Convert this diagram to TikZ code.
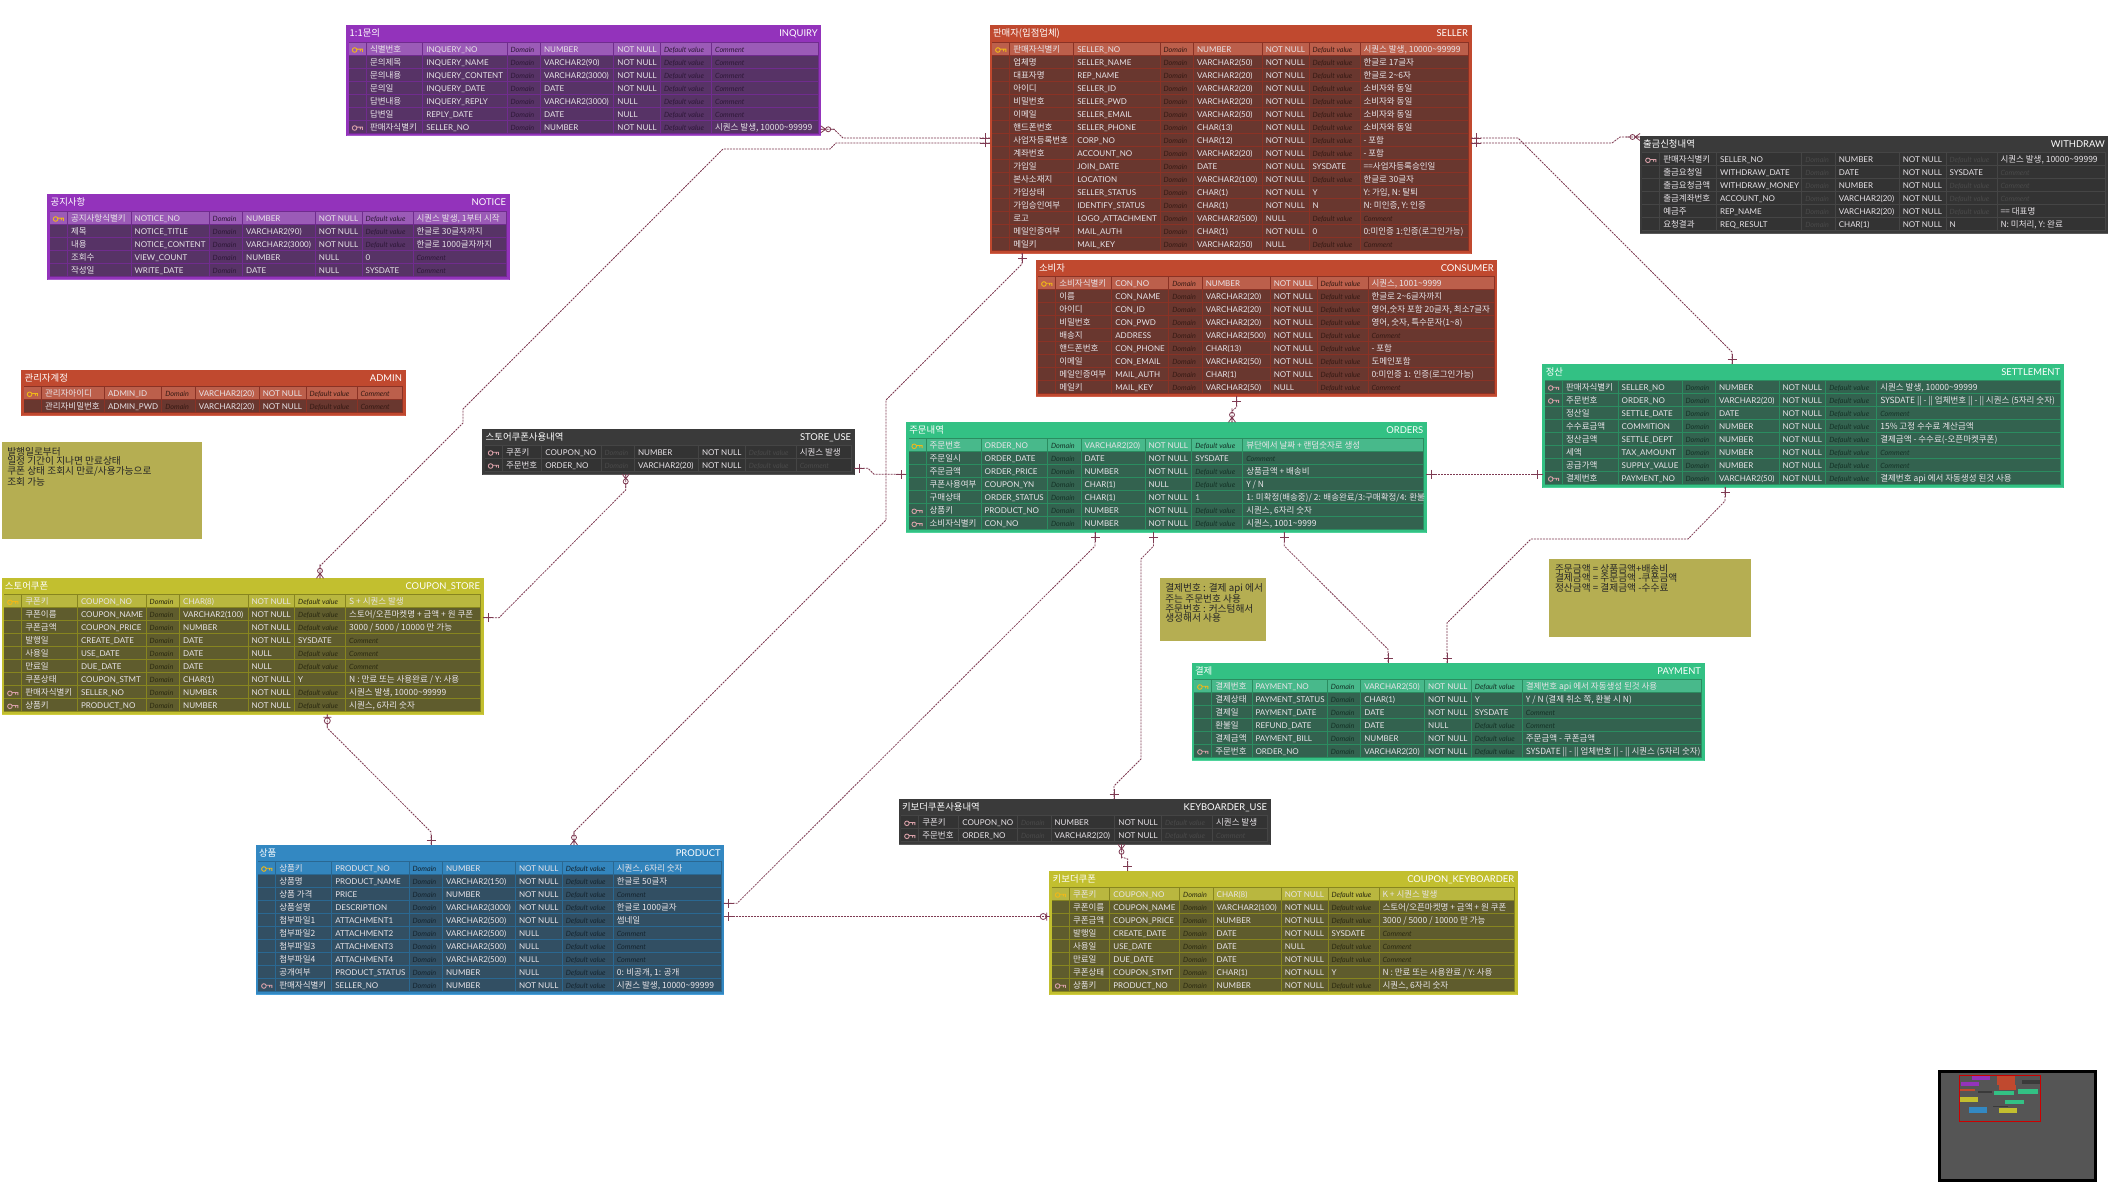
\documentclass[tikz,border=0pt]{standalone}
\usepackage{fontspec}
\setmainfont{Lato}
\newfontfamily\krfont{Noto Sans CJK KR}
\usetikzlibrary{positioning,calc}

\definecolor{purplehead}{HTML}{9333BB}\definecolor{purplerow}{HTML}{573366}\definecolor{purplepk}{HTML}{9B5BB7}
\definecolor{purpleline}{HTML}{702C8E}\definecolor{purplefade}{HTML}{2E1838}\definecolor{purpleedge}{HTML}{A75CCB}
\definecolor{redhead}{HTML}{C0492F}\definecolor{redrow}{HTML}{69372F}\definecolor{redpk}{HTML}{BC5F4B}
\definecolor{redline}{HTML}{8A3225}\definecolor{redfade}{HTML}{361A14}\definecolor{rededge}{HTML}{D0604A}
\definecolor{greenhead}{HTML}{33C184}\definecolor{greenrow}{HTML}{33624F}\definecolor{greenpk}{HTML}{48B98B}
\definecolor{greenline}{HTML}{2B8C60}\definecolor{greenfade}{HTML}{143226}\definecolor{greenedge}{HTML}{4FD39B}
\definecolor{olivehead}{HTML}{C2BF2F}\definecolor{oliverow}{HTML}{5F5C2D}\definecolor{olivepk}{HTML}{B9B73F}
\definecolor{oliveline}{HTML}{87851F}\definecolor{olivefade}{HTML}{2B2A10}\definecolor{oliveedge}{HTML}{D0CD3F}
\definecolor{bluehead}{HTML}{3388C2}\definecolor{bluerow}{HTML}{324F63}\definecolor{bluepk}{HTML}{3385BD}
\definecolor{blueline}{HTML}{2A6892}\definecolor{bluefade}{HTML}{14242F}\definecolor{blueedge}{HTML}{49A0DA}
\definecolor{darkhead}{HTML}{3A3A3A}\definecolor{darkrow}{HTML}{333333}\definecolor{darkpk}{HTML}{333333}
\definecolor{darkline}{HTML}{454545}\definecolor{darkfade}{HTML}{4A4A4A}\definecolor{darkedge}{HTML}{5A5A5A}
\definecolor{notefill}{HTML}{B5AE52}\definecolor{relcolor}{HTML}{7E3A52}
\definecolor{keygold}{HTML}{F0B818}\definecolor{keypink}{HTML}{D8A0A8}
\definecolor{cellwhite}{HTML}{E8E4E8}\definecolor{mapgray}{HTML}{555555}

\newcommand{\kr}{\krfont\fontsize{8.5}{9}\selectfont}
\newcount\erdrownum
\newcount\erdcolnum
\def\erdpk{p}
\def\erdfk{f}

\tikzset{
  erdframe/.style={rectangle,inner sep=0,outer sep=0,line width=1},
  erdhead/.style={inner sep=0,outer sep=0,text=white,font=\fontsize{9.4}{10}\selectfont},
  erdtext/.style={inner sep=0,outer sep=0,text=cellwhite,font=\fontsize{8}{9}\selectfont},
  notebox/.style={rectangle,fill=notefill,inner sep=0,outer sep=0},
  notetext/.style={inner sep=0,outer sep=0,align=left,text=black!85,font=\krfont\fontsize{9.7}{9.7}\selectfont},
  rel/.style={draw=relcolor,line width=.8,dash pattern=on 2pt off 1pt},
  erdkey/.pic={\draw[line width=.9] (-2.9,0) circle (2.3) (-.6,-.8) -- (5,-.8) -- (5,1.8) (2.8,-.8) -- (2.8,1.4);},
  onemark/.pic={\draw[solid] (0,0) -- (10,0) (5,-4.5) -- (5,4.5);},
  zeromany/.pic={\draw[solid] (0,-3.5) -- (5,0) -- (0,3.5) (0,0) -- (5,0) (7.5,0) circle (2.5) (10,0) -- (14,0);},
  zeroone/.pic={\draw[solid] (0,0) -- (3,0) (3,-4) -- (3,4) (6.5,0) circle (3) (9.5,0) -- (13,0);}
}

% one cell of a row: width, text
\newcommand{\erdcell}[2]{%
  \advance\erdcolnum by 1
  \fill[fill=\erdfill] (\erdcx,\erdcy) rectangle ++(#1-1,12);
  \node[erdtext,anchor=base west] (\erdid-\the\erdrownum-\the\erdcolnum) at (\erdcx+3,\erdcy+9.1) {#2};
  \pgfmathsetmacro\erdcx{\erdcx+#1}%
}
\newcommand{\erdcols}[3]{\def\erdkor{#1}\def\erdcol{#2}\def\erdtype{#3}}
% id, theme, x, y, width, rows, korean title, english title
\newcommand{\erdtable}[8]{%
  \def\erdid{#1}\def\erdtheme{#2}\erdrownum=0
  \pgfmathsetmacro\erdleft{#3+2.3}%
  \pgfmathsetmacro\erdcy{#4+17}%
  \pgfmathsetmacro\erdcomm{#5-153.5-\erdkor-\erdcol-\erdtype}%
  \pgfmathsetmacro\erdh{17+13*#6+2}%
  \node[erdframe,fill=#2head,draw=#2head,minimum width=#5,minimum height=\erdh,anchor=north west] (#1) at (#3,#4) {};
  \fill[fill=#2line] (\erdleft,#4+16) rectangle ++(#5-4.3,13*#6+1);
  \draw[draw=#2edge,line width=1] (#1.south west) -- (#1.south east);
  \node[erdhead,anchor=base west] (#1-kor) at (#3+3,#4+11) {\krfont #7};
  \node[erdhead,anchor=base east] (#1-eng) at (#3+#5-3,#4+11) {#8};
}
% key, korean name, column, type, null, default, comment
\newcommand{\erow}[7]{%
  \advance\erdrownum by 1
  \erdcolnum=0
  \def\erdkeyarg{#1}\def\erddefarg{#6}\def\erdcomarg{#7}%
  \ifx\erdkeyarg\erdpk\def\erdfill{\erdtheme pk}\else\def\erdfill{\erdtheme row}\fi
  \let\erdcx\erdleft
  \erdcell{18}{}
  \ifx\erdkeyarg\erdpk\pic[color=keygold] at (\erdleft+8.5,\erdcy+7) {erdkey};\fi
  \ifx\erdkeyarg\erdfk\pic[color=keypink] at (\erdleft+8.5,\erdcy+7) {erdkey};\fi
  \erdcell{\erdkor}{\kr #2}
  \erdcell{\erdcol}{#3}
  \erdcell{33.5}{\color{\erdtheme fade}\itshape\fontsize{7.2}{8}\selectfont Domain}
  \erdcell{\erdtype}{#4}
  \erdcell{46.7}{#5}
  \ifx\erddefarg\empty
    \erdcell{51}{\color{\erdtheme fade}\itshape\fontsize{7.2}{8}\selectfont Default value}
  \else
    \erdcell{51}{#6}
  \fi
  \ifx\erdcomarg\empty
    \erdcell{\erdcomm}{\color{\erdtheme fade}\itshape\fontsize{7.2}{8}\selectfont Comment}
  \else
    \erdcell{\erdcomm}{\kr #7}
  \fi
  \pgfmathsetmacro\erdcy{\erdcy+13}%
}

\begin{document}
\begin{tikzpicture}[x=1pt,y=-1pt]
  \fill[white] (0,0) rectangle (2117,1201);
  \useasboundingbox (0,0) rectangle (2117,1201);

  % tables
  \erdcols{56.3}{84.3}{73.3}
  \erdtable{inquiry}{purple}{346.7}{26}{474}{7}{1:1문의}{INQUIRY}
  \erow{p}{식별번호}{INQUERY\_NO}{NUMBER}{NOT NULL}{}{}
  \erow{}{문의제목}{INQUERY\_NAME}{VARCHAR2(90)}{NOT NULL}{}{}
  \erow{}{문의내용}{INQUERY\_CONTENT}{VARCHAR2(3000)}{NOT NULL}{}{}
  \erow{}{문의일}{INQUERY\_DATE}{DATE}{NOT NULL}{}{}
  \erow{}{답변내용}{INQUERY\_REPLY}{VARCHAR2(3000)}{NULL}{}{}
  \erow{}{답변일}{REPLY\_DATE}{DATE}{NULL}{}{}
  \erow{f}{판매자식별키}{SELLER\_NO}{NUMBER}{NOT NULL}{}{시퀀스 발생, 10000\textasciitilde99999}

  \erdcols{64}{86.3}{68.7}
  \erdtable{seller}{red}{990}{26}{481}{16}{판매자(입점업체)}{SELLER}
  \erow{p}{판매자식별키}{SELLER\_NO}{NUMBER}{NOT NULL}{}{시퀀스 발생, 10000\textasciitilde99999}
  \erow{}{업체명}{SELLER\_NAME}{VARCHAR2(50)}{NOT NULL}{}{한글로 17글자}
  \erow{}{대표자명}{REP\_NAME}{VARCHAR2(20)}{NOT NULL}{}{한글로 2\textasciitilde6자}
  \erow{}{아이디}{SELLER\_ID}{VARCHAR2(20)}{NOT NULL}{}{소비자와 동일}
  \erow{}{비밀번호}{SELLER\_PWD}{VARCHAR2(20)}{NOT NULL}{}{소비자와 동일}
  \erow{}{이메일}{SELLER\_EMAIL}{VARCHAR2(50)}{NOT NULL}{}{소비자와 동일}
  \erow{}{핸드폰번호}{SELLER\_PHONE}{CHAR(13)}{NOT NULL}{}{소비자와 동일}
  \erow{}{사업자등록번호}{CORP\_NO}{CHAR(12)}{NOT NULL}{}{- 포함}
  \erow{}{계좌번호}{ACCOUNT\_NO}{VARCHAR2(20)}{NOT NULL}{}{- 포함}
  \erow{}{가입일}{JOIN\_DATE}{DATE}{NOT NULL}{SYSDATE}{==사업자등록승인일}
  \erow{}{본사소재지}{LOCATION}{VARCHAR2(100)}{NOT NULL}{}{한글로 30글자}
  \erow{}{가입상태}{SELLER\_STATUS}{CHAR(1)}{NOT NULL}{Y}{Y: 가입, N: 탈퇴}
  \erow{}{가입승인여부}{IDENTIFY\_STATUS}{CHAR(1)}{NOT NULL}{N}{N: 미인증, Y: 인증}
  \erow{}{로고}{LOGO\_ATTACHMENT}{VARCHAR2(500)}{NULL}{}{}
  \erow{}{메일인증여부}{MAIL\_AUTH}{CHAR(1)}{NOT NULL}{0}{0:미인증 1:인증(로그인가능)}
  \erow{}{메일키}{MAIL\_KEY}{VARCHAR2(50)}{NULL}{}{}

  \erdcols{56.7}{85.3}{64}
  \erdtable{withdraw}{dark}{1640}{136.3}{467.7}{6}{출금신청내역}{WITHDRAW}
  \erow{f}{판매자식별키}{SELLER\_NO}{NUMBER}{NOT NULL}{}{시퀀스 발생, 10000\textasciitilde99999}
  \erow{}{출금요청일}{WITHDRAW\_DATE}{DATE}{NOT NULL}{SYSDATE}{}
  \erow{}{출금요청금액}{WITHDRAW\_MONEY}{NUMBER}{NOT NULL}{}{}
  \erow{}{출금계좌번호}{ACCOUNT\_NO}{VARCHAR2(20)}{NOT NULL}{}{}
  \erow{}{예금주}{REP\_NAME}{VARCHAR2(20)}{NOT NULL}{}{== 대표명}
  \erow{}{요청결과}{REQ\_RESULT}{CHAR(1)}{NOT NULL}{N}{N: 미처리, Y: 완료}

  \erdcols{63.7}{78}{72.7}
  \erdtable{notice}{purple}{47.7}{195}{461.3}{5}{공지사항}{NOTICE}
  \erow{p}{공지사항식별키}{NOTICE\_NO}{NUMBER}{NOT NULL}{}{시퀀스 발생, 1부터 시작}
  \erow{}{제목}{NOTICE\_TITLE}{VARCHAR2(90)}{NOT NULL}{}{한글로 30글자까지}
  \erow{}{내용}{NOTICE\_CONTENT}{VARCHAR2(3000)}{NOT NULL}{}{한글로 1000글자까지}
  \erow{}{조회수}{VIEW\_COUNT}{NUMBER}{NULL}{0}{}
  \erow{}{작성일}{WRITE\_DATE}{DATE}{NULL}{SYSDATE}{}

  \erdcols{63}{57.3}{64}
  \erdtable{admin}{red}{21.7}{370.3}{383.3}{2}{관리자계정}{ADMIN}
  \erow{p}{관리자아이디}{ADMIN\_ID}{VARCHAR2(20)}{NOT NULL}{}{}
  \erow{}{관리자비밀번호}{ADMIN\_PWD}{VARCHAR2(20)}{NOT NULL}{}{}

  \erdcols{56}{57}{68}
  \erdtable{consumer}{red}{1036}{260}{460.7}{9}{소비자}{CONSUMER}
  \erow{p}{소비자식별키}{CON\_NO}{NUMBER}{NOT NULL}{}{시퀀스, 1001\textasciitilde9999}
  \erow{}{이름}{CON\_NAME}{VARCHAR2(20)}{NOT NULL}{}{한글로 2\textasciitilde6글자까지}
  \erow{}{아이디}{CON\_ID}{VARCHAR2(20)}{NOT NULL}{}{영어,숫자 포함 20글자, 최소7글자}
  \erow{}{비밀번호}{CON\_PWD}{VARCHAR2(20)}{NOT NULL}{}{영어, 숫자, 특수문자(1\textasciitilde8)}
  \erow{}{배송지}{ADDRESS}{VARCHAR2(500)}{NOT NULL}{}{}
  \erow{}{핸드폰번호}{CON\_PHONE}{CHAR(13)}{NOT NULL}{}{- 포함}
  \erow{}{이메일}{CON\_EMAIL}{VARCHAR2(50)}{NOT NULL}{}{도메인포함}
  \erow{}{메일인증여부}{MAIL\_AUTH}{CHAR(1)}{NOT NULL}{}{0:미인증 1: 인증(로그인가능)}
  \erow{}{메일키}{MAIL\_KEY}{VARCHAR2(50)}{NULL}{}{}

  \erdcols{55.6}{63.9}{63.5}
  \erdtable{settlement}{green}{1542.8}{364}{520.3}{8}{정산}{SETTLEMENT}
  \erow{f}{판매자식별키}{SELLER\_NO}{NUMBER}{NOT NULL}{}{시퀀스 발생, 10000\textasciitilde99999}
  \erow{f}{주문번호}{ORDER\_NO}{VARCHAR2(20)}{NOT NULL}{}{SYSDATE || - || 업체번호 || - || 시퀀스 (5자리 숫자)}
  \erow{}{정산일}{SETTLE\_DATE}{DATE}{NOT NULL}{}{}
  \erow{}{수수료금액}{COMMITION}{NUMBER}{NOT NULL}{}{15\% 고정 수수료 계산금액}
  \erow{}{정산금액}{SETTLE\_DEPT}{NUMBER}{NOT NULL}{}{결제금액 - 수수료(-오픈마켓쿠폰)}
  \erow{}{세액}{TAX\_AMOUNT}{NUMBER}{NOT NULL}{}{}
  \erow{}{공급가액}{SUPPLY\_VALUE}{NUMBER}{NOT NULL}{}{}
  \erow{f}{결제번호}{PAYMENT\_NO}{VARCHAR2(50)}{NOT NULL}{}{결제번호 api 에서 자동생성 된것 사용}

  \erdcols{55}{66.5}{64}
  \erdtable{orders}{green}{906.3}{422.3}{520}{7}{주문내역}{ORDERS}
  \erow{p}{주문번호}{ORDER\_NO}{VARCHAR2(20)}{NOT NULL}{}{뷰단에서 날짜 + 랜덤숫자로 생성}
  \erow{}{주문일시}{ORDER\_DATE}{DATE}{NOT NULL}{SYSDATE}{}
  \erow{}{주문금액}{ORDER\_PRICE}{NUMBER}{NOT NULL}{}{상품금액 + 배송비}
  \erow{}{쿠폰사용여부}{COUPON\_YN}{CHAR(1)}{NULL}{}{Y / N}
  \erow{}{구매상태}{ORDER\_STATUS}{CHAR(1)}{NOT NULL}{1}{1: 미확정(배송중)/ 2: 배송완료/3:구매확정/4: 환불}
  \erow{f}{상품키}{PRODUCT\_NO}{NUMBER}{NOT NULL}{}{시퀀스, 6자리 숫자}
  \erow{f}{소비자식별키}{CON\_NO}{NUMBER}{NOT NULL}{}{시퀀스, 1001\textasciitilde9999}

  \erdcols{40.2}{75.3}{63.9}
  \erdtable{payment}{green}{1192}{663}{512}{6}{결제}{PAYMENT}
  \erow{p}{결제번호}{PAYMENT\_NO}{VARCHAR2(50)}{NOT NULL}{}{결제번호 api 에서 자동생성 된것 사용}
  \erow{}{결제상태}{PAYMENT\_STATUS}{CHAR(1)}{NOT NULL}{Y}{Y / N (결제 취소 쪽, 환불 시 N)}
  \erow{}{결제일}{PAYMENT\_DATE}{DATE}{NOT NULL}{SYSDATE}{}
  \erow{}{환불일}{REFUND\_DATE}{DATE}{NULL}{}{}
  \erow{}{결제금액}{PAYMENT\_BILL}{NUMBER}{NOT NULL}{}{주문금액 - 쿠폰금액}
  \erow{f}{주문번호}{ORDER\_NO}{VARCHAR2(20)}{NOT NULL}{}{SYSDATE || - || 업체번호 || - || 시퀀스 (5자리 숫자)}

  \erdcols{39.3}{59.3}{64}
  \erdtable{storeuse}{dark}{482.7}{429}{371.3}{2}{스토어쿠폰사용내역}{STORE\_USE}
  \erow{f}{쿠폰키}{COUPON\_NO}{NUMBER}{NOT NULL}{}{시퀀스 발생}
  \erow{f}{주문번호}{ORDER\_NO}{VARCHAR2(20)}{NOT NULL}{}{}

  \erdcols{40}{58.8}{63.8}
  \erdtable{keyuse}{dark}{899}{799.3}{371}{2}{키보더쿠폰사용내역}{KEYBOARDER\_USE}
  \erow{f}{쿠폰키}{COUPON\_NO}{NUMBER}{NOT NULL}{}{시퀀스 발생}
  \erow{f}{주문번호}{ORDER\_NO}{VARCHAR2(20)}{NOT NULL}{}{}

  \erdcols{55.7}{68.7}{68.3}
  \erdtable{couponstore}{olive}{2}{578.3}{481}{9}{스토어쿠폰}{COUPON\_STORE}
  \erow{p}{쿠폰키}{COUPON\_NO}{CHAR(8)}{NOT NULL}{}{S + 시퀀스 발생}
  \erow{}{쿠폰이름}{COUPON\_NAME}{VARCHAR2(100)}{NOT NULL}{}{스토어/오픈마켓명 + 금액 + 원 쿠폰}
  \erow{}{쿠폰금액}{COUPON\_PRICE}{NUMBER}{NOT NULL}{}{3000 / 5000 / 10000 만 가능}
  \erow{}{발행일}{CREATE\_DATE}{DATE}{NOT NULL}{SYSDATE}{}
  \erow{}{사용일}{USE\_DATE}{DATE}{NULL}{}{}
  \erow{}{만료일}{DUE\_DATE}{DATE}{NULL}{}{}
  \erow{}{쿠폰상태}{COUPON\_STMT}{CHAR(1)}{NOT NULL}{Y}{N : 만료 또는 사용완료 / Y: 사용}
  \erow{f}{판매자식별키}{SELLER\_NO}{NUMBER}{NOT NULL}{}{시퀀스 발생, 10000\textasciitilde99999}
  \erow{f}{상품키}{PRODUCT\_NO}{NUMBER}{NOT NULL}{}{시퀀스, 6자리 숫자}

  \erdcols{40.4}{69.8}{68.1}
  \erdtable{couponkey}{olive}{1049.7}{871}{467.5}{8}{키보더쿠폰}{COUPON\_KEYBOARDER}
  \erow{p}{쿠폰키}{COUPON\_NO}{CHAR(8)}{NOT NULL}{}{K + 시퀀스 발생}
  \erow{}{쿠폰이름}{COUPON\_NAME}{VARCHAR2(100)}{NOT NULL}{}{스토어/오픈마켓명 + 금액 + 원 쿠폰}
  \erow{}{쿠폰금액}{COUPON\_PRICE}{NUMBER}{NOT NULL}{}{3000 / 5000 / 10000 만 가능}
  \erow{}{발행일}{CREATE\_DATE}{DATE}{NOT NULL}{SYSDATE}{}
  \erow{}{사용일}{USE\_DATE}{DATE}{NULL}{}{}
  \erow{}{만료일}{DUE\_DATE}{DATE}{NOT NULL}{}{}
  \erow{}{쿠폰상태}{COUPON\_STMT}{CHAR(1)}{NOT NULL}{Y}{N : 만료 또는 사용완료 / Y: 사용}
  \erow{f}{상품키}{PRODUCT\_NO}{NUMBER}{NOT NULL}{}{시퀀스, 6자리 숫자}

  \erdcols{56}{77.3}{73}
  \erdtable{product}{blue}{256}{845}{467.7}{10}{상품}{PRODUCT}
  \erow{p}{상품키}{PRODUCT\_NO}{NUMBER}{NOT NULL}{}{시퀀스, 6자리 숫자}
  \erow{}{상품명}{PRODUCT\_NAME}{VARCHAR2(150)}{NOT NULL}{}{한글로 50글자}
  \erow{}{상품 가격}{PRICE}{NUMBER}{NOT NULL}{}{}
  \erow{}{상품설명}{DESCRIPTION}{VARCHAR2(3000)}{NOT NULL}{}{한글로 1000글자}
  \erow{}{첨부파일1}{ATTACHMENT1}{VARCHAR2(500)}{NOT NULL}{}{썸네일}
  \erow{}{첨부파일2}{ATTACHMENT2}{VARCHAR2(500)}{NULL}{}{}
  \erow{}{첨부파일3}{ATTACHMENT3}{VARCHAR2(500)}{NULL}{}{}
  \erow{}{첨부파일4}{ATTACHMENT4}{VARCHAR2(500)}{NULL}{}{}
  \erow{}{공개여부}{PRODUCT\_STATUS}{NUMBER}{NULL}{}{0: 비공개, 1: 공개}
  \erow{f}{판매자식별키}{SELLER\_NO}{NUMBER}{NOT NULL}{}{시퀀스 발생, 10000\textasciitilde99999}

  % notes
  \node[notebox,minimum width=200,minimum height=97.3,anchor=north west] (noteCoupon) at (2,442) {};
  \node[notetext,anchor=north west] (noteCouponText) at ([shift={(5.3,5)}]noteCoupon.north west) {발행일로부터\\일정 기간이 지나면 만료상태\\쿠폰 상태 조회시 만료/사용가능으로\\조회 가능};
  \node[notebox,minimum width=105.5,minimum height=62.7,anchor=north west] (noteOrder) at (1160,578.3) {};
  \node[notetext,anchor=north west] (noteOrderText) at ([shift={(5.3,5)}]noteOrder.north west) {결제번호 : 결제 api 에서\\주는 주문번호 사용\\주문번호 : 커스텀해서\\ 생성해서 사용};
  \node[notebox,minimum width=201.5,minimum height=78,anchor=north west] (noteMoney) at (1549,559) {};
  \node[notetext,anchor=north west] (noteMoneyText) at ([shift={(6,5)}]noteMoney.north west) {주문금액 = 상품금액+배송비\\결제금액 = 주문금액 -쿠폰금액\\정산금액 = 결제금액 -수수료};

  % relations
  \draw[rel] (inquiry.east |- 0,129.3) pic{zeromany} -- (834,129.3) -- (843,138) -- (seller.west |- 0,138) pic[rotate=180]{onemark};
  \draw[rel] (320,0 |- couponstore.north) pic[rotate=90]{zeromany} -- (320,566) -- (463,423) -- (463,409) -- (723,149) -- (830,149) -- (836,143) -- (seller.west |- 0,143) pic[rotate=180]{onemark};
  \draw[rel] (seller.east |- 0,138) pic{onemark} -- (1518,138) -- (1732,352) -- (1732,0 |- settlement.north) pic[rotate=90]{onemark};
  \draw[rel] (seller.east |- 0,143) pic{onemark} -- (1612,143) -- (1620,137) -- (withdraw.west |- 0,137) pic[rotate=180]{zeromany};
  \draw[rel] (1022,0 |- seller.south) pic[rotate=270]{onemark} -- (1022,264) -- (886,400) -- (886,520) -- (574,832) -- (574,0 |- product.north) pic[rotate=90]{zeromany};
  \draw[rel] (storeuse.east |- 0,468.3) pic{onemark} -- (868,468.3) -- (874,474.3) -- (orders.west |- 0,474.3) pic[rotate=180]{onemark};
  \draw[rel] (625.7,0 |- storeuse.south) pic[rotate=270]{zeromany} -- (625.7,490) -- (499,617.7) -- (couponstore.east |- 0,617.7) pic{onemark};
  \draw[rel] (1236.7,0 |- consumer.south) pic[rotate=270]{onemark} -- (1236.7,407) -- (1232,411) -- (1232,0 |- orders.north) pic[rotate=90]{zeromany};
  \draw[rel] (orders.east |- 0,474.3) pic{onemark} -- (settlement.west |- 0,474.3) pic[rotate=180]{onemark};
  \draw[rel] (1095,0 |- orders.south) pic[rotate=270]{onemark} -- (1095,546) -- (737,903.3) -- (product.east |- 0,903.3) pic{onemark};
  \draw[rel] (1153.5,0 |- orders.south) pic[rotate=270]{onemark} -- (1153.5,546) -- (1141,559) -- (1141,759) -- (1114,786) -- (1114,0 |- keyuse.north) pic[rotate=90]{onemark};
  \draw[rel] (1284.3,0 |- orders.south) pic[rotate=270]{onemark} -- (1284.3,546) -- (1388,649.3) -- (1388,0 |- payment.north) pic[rotate=90]{onemark};
  \draw[rel] (1725,0 |- settlement.south) pic[rotate=270]{onemark} -- (1725,501) -- (1688,539) -- (1531,539) -- (1447,623) -- (1447,0 |- payment.north) pic[rotate=90]{onemark};
  \draw[rel] (product.east |- 0,916.5) pic{onemark} -- (couponkey.west |- 0,916.5) pic[rotate=180]{zeroone};
  \draw[rel] (1121.5,0 |- keyuse.south) pic[rotate=270]{zeromany} -- (1121.5,857) -- (1127.7,859) -- (1127.7,0 |- couponkey.north) pic[rotate=90]{onemark};
  \draw[rel] (327.3,0 |- couponstore.south) pic[rotate=270]{zeroone} -- (327.3,728) -- (431,832) -- (431,0 |- product.north) pic[rotate=90]{onemark};

  % overview map
  \draw[black,line width=3,fill=mapgray] (1939,1071) rectangle (2095,1180);
  \begin{scope}[shift={(1959,1075)},x=.0383pt,y=-.0383pt]
    \foreach \tx/\ty/\tw/\th/\tc in {347/26/474/110/purplehead,990/26/481/227/redhead,1640/136/468/97/darkhead,
      48/195/461/84/purplehead,22/370/383/45/redhead,1036/260/461/136/redhead,1543/364/520/123/greenhead,
      906/422/520/110/greenhead,1192/663/512/97/greenhead,483/429/371/45/darkhead,899/799/371/45/darkhead,
      2/578/481/136/olivehead,1050/871/468/123/olivehead,256/845/468/149/bluehead}
      \fill[fill=\tc] (\tx,\ty) rectangle ++(\tw,\th);
    \draw[red!80!black,line width=1] (0,0) rectangle (2117,1201);
  \end{scope}
\end{tikzpicture}
\end{document}
